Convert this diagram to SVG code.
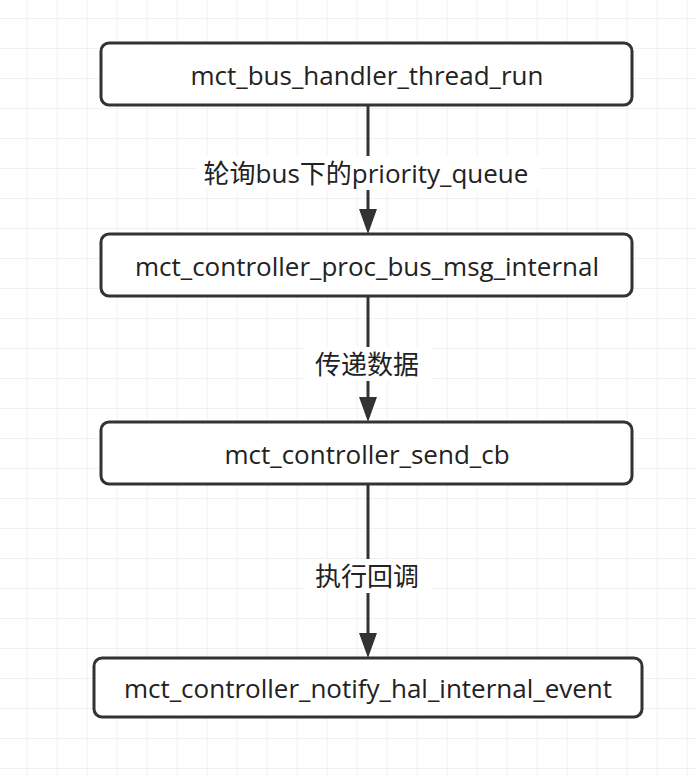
<svg xmlns="http://www.w3.org/2000/svg" width="696" height="776" viewBox="0 0 696 776">
<defs>
<pattern id="g" x="26.7" y="18" width="30" height="30" patternUnits="userSpaceOnUse"><path d="M0 0H30M0 0V30" fill="none" stroke="#e4e4e4" stroke-width="1"/></pattern>
<style>
.n{fill:#fff;stroke:#333;stroke-width:3}
.t{font-family:"Open Sans","Noto Sans CJK SC",sans-serif;font-size:26px;fill:#222;text-anchor:middle;dominant-baseline:central}
.c{stroke:#333;stroke-width:3;fill:none}
.h{fill:#333}
</style>
</defs>
<rect width="696" height="776" fill="#fff"/>
<rect width="696" height="776" fill="url(#g)"/>
<g id="edges">
<path class="c" d="M368 105V222"/><path class="h" d="M359 209L368 234L377 209Z"/>
<path class="c" d="M368 296V410"/><path class="h" d="M359 397L368 422L377 397Z"/>
<path class="c" d="M368 484V646"/><path class="h" d="M359 633L368 658L377 633Z"/>
<rect x="196" y="156" width="344" height="34" fill="#fff"/>
<text class="t" x="366" y="173">轮询bus下的priority_queue</text>
<rect x="304" y="347" width="128" height="34" fill="#fff"/>
<text class="t" x="367" y="364">传递数据</text>
<rect x="304" y="559" width="128" height="34" fill="#fff"/>
<text class="t" x="367" y="576">执行回调</text>
</g>
<g id="n1"><rect class="n" x="101" y="43" width="531" height="62" rx="8"/><text class="t" x="367" y="75">mct_bus_handler_thread_run</text></g>
<g id="n2"><rect class="n" x="101" y="234" width="531" height="62" rx="8"/><text class="t" x="367" y="266">mct_controller_proc_bus_msg_internal</text></g>
<g id="n3"><rect class="n" x="101" y="422" width="531" height="62" rx="8"/><text class="t" x="367" y="454">mct_controller_send_cb</text></g>
<g id="n4"><rect class="n" x="94" y="658" width="548" height="59" rx="8"/><text class="t" x="368" y="688">mct_controller_notify_hal_internal_event</text></g>
</svg>
